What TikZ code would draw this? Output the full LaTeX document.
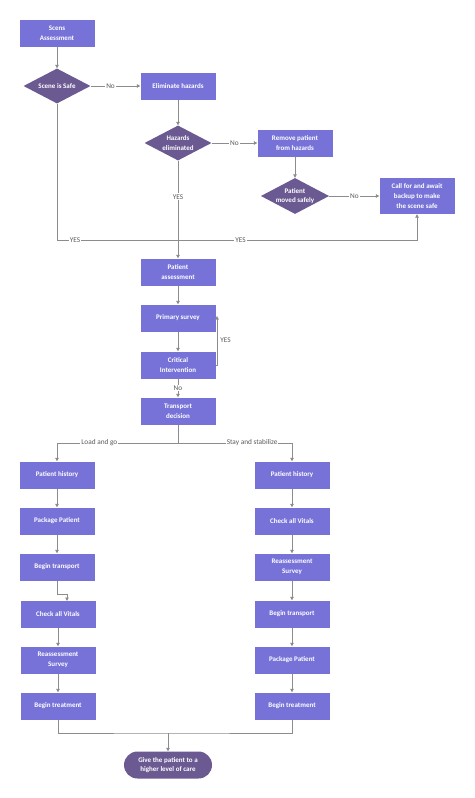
\documentclass[tikz,border=0pt]{standalone}
\usepackage{fontspec}
\setmainfont{Carlito}
\usetikzlibrary{shapes.geometric,shapes.misc,arrows.meta}
\definecolor{boxblue}{HTML}{7672D8}
\definecolor{diapurple}{HTML}{6B5A92}
\definecolor{linegray}{HTML}{8C8C8C}
\definecolor{labelgray}{HTML}{5A5A5A}

\begin{document}
\begin{tikzpicture}
  [x=1pt,y=-1pt,
   every node/.style={font=\fontsize{7}{9.7}\selectfont\bfseries,text=white,align=center},
   stepbox/.style={rectangle,fill=boxblue,minimum width=75pt,minimum height=27pt,inner sep=1pt},
   decision/.style={diamond,fill=diapurple,aspect=1.9,inner sep=0pt,minimum width=67pt,minimum height=35pt},
   endbox/.style={rounded rectangle,fill=diapurple,minimum width=90pt,minimum height=27pt,inner sep=1pt},
   link/.style={draw=linegray,line width=0.9pt,-{Triangle[length=3.5pt,width=3.5pt]}},
   plain/.style={draw=linegray,line width=0.9pt},
   lbl/.style={font=\fontsize{7.3}{8}\selectfont,text=labelgray,fill=white,inner sep=1pt}]
  \useasboundingbox (0,0) rectangle (474,798);
  % scene check
  \node[stepbox] (scene) at (57,33) {Scens\\Assessment};
  \node[decision] (safe) at (57,86) {Scene is Safe};
  \node[stepbox] (elim) at (178,86) {Eliminate hazards};
  \node[decision] (hazel) at (178,143) {Hazards\\eliminated};
  \node[stepbox] (remove) at (295,143) {Remove patient\\from hazards};
  \node[decision] (moved) at (295,196) {Patient\\moved safely};
  \node[stepbox,minimum height=36pt] (call) at (417,196) {Call for and await\\backup to make\\the scene safe};
  % main line
  \node[stepbox] (pass) at (178,272) {Patient\\assessment};
  \node[stepbox] (prim) at (178,318) {Primary survey};
  \node[stepbox] (crit) at (178,365) {Critical\\Intervention};
  \node[stepbox] (trans) at (178,411) {Transport\\decision};
  % load and go
  \node[stepbox] (lhist) at (57,475) {Patient history};
  \node[stepbox] (lpack) at (57,521) {Package Patient};
  \node[stepbox] (lbtr) at (57,567) {Begin transport};
  \node[stepbox] (lvit) at (58,614) {Check all Vitals};
  \node[stepbox] (lreas) at (58,660) {Reassessment\\Survey};
  \node[stepbox] (ltreat) at (58,706) {Begin treatment};
  % stay and stabilize
  \node[stepbox] (rhist) at (292,475) {Patient history};
  \node[stepbox] (rvit) at (292,521) {Check all Vitals};
  \node[stepbox] (rreas) at (292,567) {Reassessment\\Survey};
  \node[stepbox] (rbtr) at (292,614) {Begin transport};
  \node[stepbox] (rpack) at (292,660) {Package Patient};
  \node[stepbox] (rtreat) at (292,706) {Begin treatment};
  \node[endbox] (care) at (168,765) {Give the patient to a\\higher level of care};
  % turning points
  \coordinate (yesbend) at (57,240);
  \coordinate (loopend) at (217,316);
  \coordinate (split) at (178,443);
  \coordinate (jog) at (57,594);
  \coordinate (merge) at (168,733);

  \foreach \from/\to in {scene/safe,elim/hazel,remove/moved,pass/prim,prim/crit,
                         lhist/lpack,lpack/lbtr,lvit/lreas,lreas/ltreat,
                         rhist/rvit,rvit/rreas,rreas/rbtr,rbtr/rpack,rpack/rtreat}
    \draw[link] (\from) -- (\to);
  \draw[link] (safe) -- node[lbl,pos=0.4] {No} (elim);
  \draw[link] (hazel) -- node[lbl,pos=0.5] {No} (remove);
  \draw[link] (moved) -- node[lbl,pos=0.5] {No} (call);
  \draw[link] (hazel) -- node[lbl,pos=0.37] {YES} (pass);
  \draw[link] (safe.south) -- (yesbend) -- node[lbl,pos=0.05] {YES} node[lbl,pos=0.51] {YES} (yesbend -| call) -- (call.south);
  \draw[link] (crit) -- node[lbl,pos=0.5] {No} (trans);
  \draw[link,line width=0.6pt] (crit.east) -| node[lbl,pos=0.75,right=2pt,fill=none] {YES} (loopend);
  \draw[plain] (trans.south) -- (split);
  \draw[link] (split) -- node[lbl,pos=0.65] {Load and go} (split -| lhist) -- (lhist);
  \draw[link] (split) -- node[lbl,pos=0.65] {Stay and stabilize} (split -| rhist) -- (rhist);
  \draw[link] (lbtr) -- (jog) -- ++(10,0) -- ++(0,7);
  \draw[plain] (ltreat.south) |- (merge) -| (rtreat.south);
  \draw[link] (merge) -- (care);
\end{tikzpicture}
\end{document}
